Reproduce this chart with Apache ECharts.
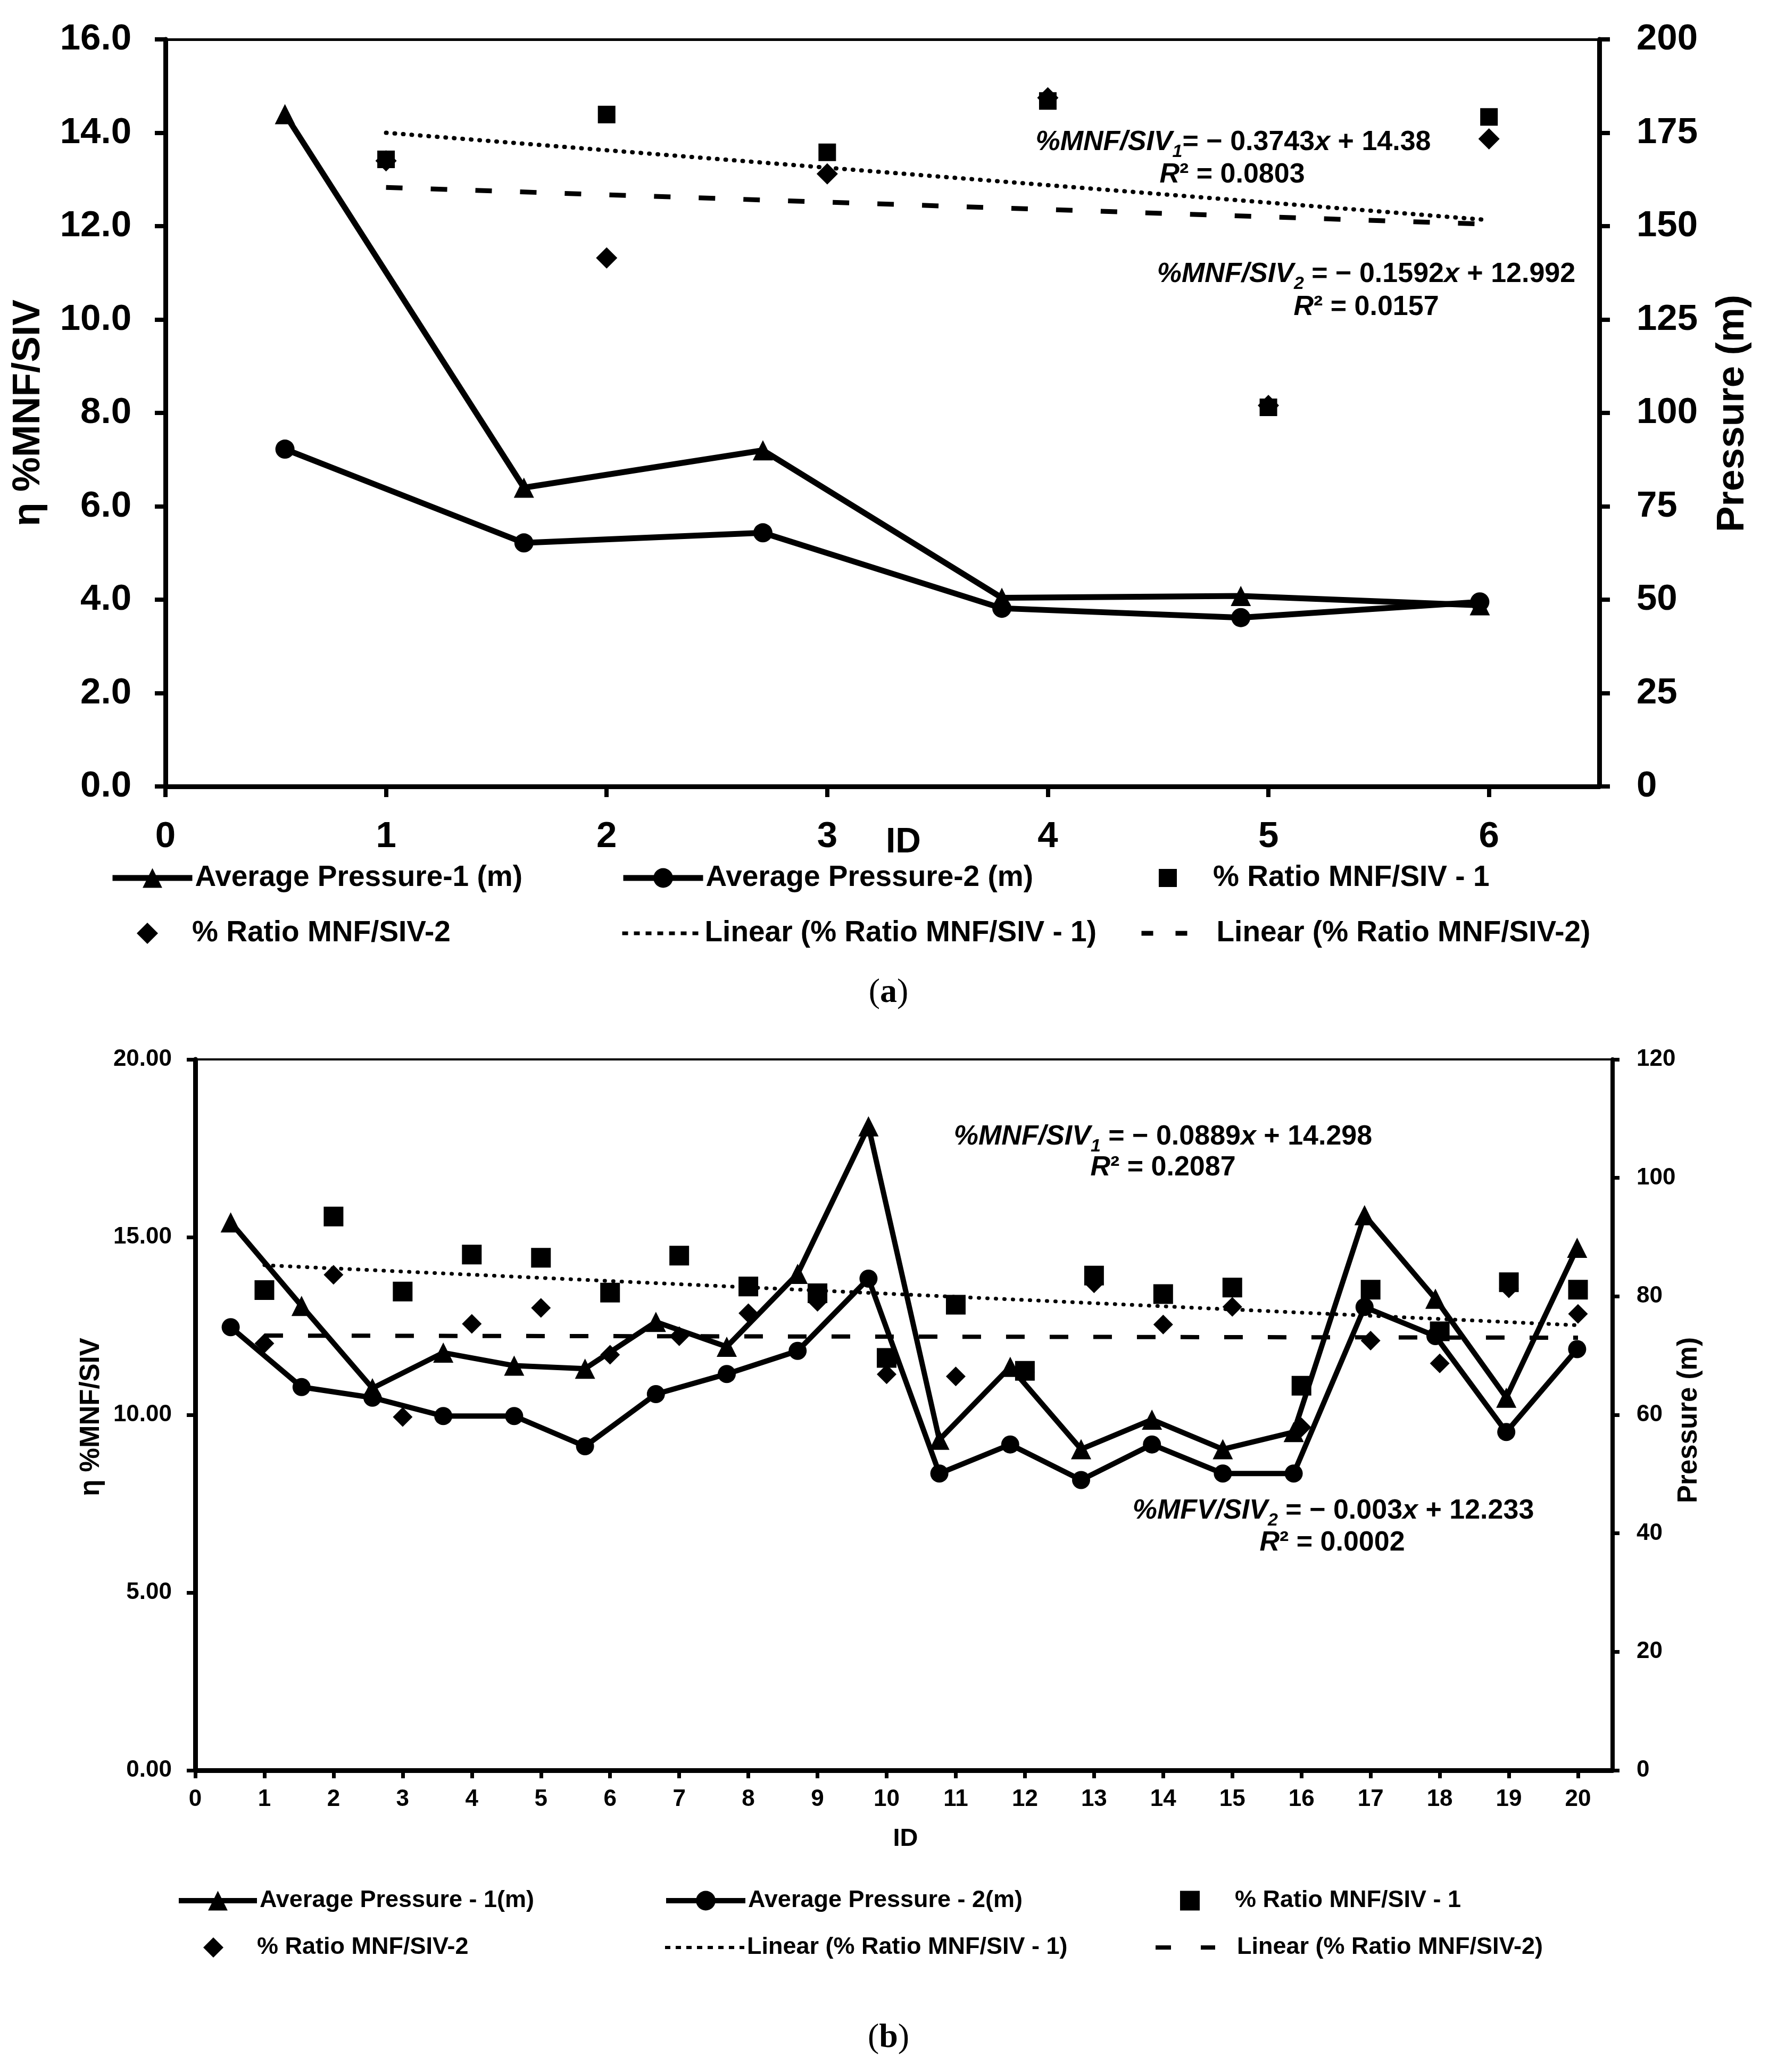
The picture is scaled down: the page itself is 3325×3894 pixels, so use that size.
<!DOCTYPE html>
<html><head><meta charset="utf-8">
<script src="https://cdn.jsdelivr.net/npm/echarts@6/dist/echarts.min.js"></script>
<style>html,body{margin:0;padding:0;background:#fff}#c{width:3325px;height:3894px}</style>
</head><body><div id="c"></div>
<script>
// ---------- Panel (a) data ----------
const idsA = [1, 2, 3, 4, 5, 6];
const xTicksA = [0, 1, 2, 3, 4, 5, 6];
const pressure1A = [180, 80, 90, 50.5, 51, 48.5];
const pressure2A = [90.3, 65.2, 67.9, 47.7, 45.2, 49.4];
const ratio1A = [13.43, 14.39, 13.58, 14.68, 8.12, 14.34];
const ratio2A = [13.40, 11.32, 13.12, 14.75, 8.16, 13.87];
const trend1A = [[1, 14.0], [6, 12.13]];
const trend2A = [[1, 12.83], [6, 12.04]];

// ---------- Panel (b) data ----------
const idsB = [1, 2, 3, 4, 5, 6, 7, 8, 9, 10, 11, 12, 13, 14, 15, 16, 17, 18, 19, 20];
const xTicksB = [0, 1, 2, 3, 4, 5, 6, 7, 8, 9, 10, 11, 12, 13, 14, 15, 16, 17, 18, 19, 20];
const pressure1B = [92.5, 78.4, 64.5, 70.5, 68.3, 67.8, 75.7, 71.5, 83.8, 108.7, 55.8, 68.1, 54.2, 59.2, 54.2, 57.1, 93.7, 79.6, 62.9, 88.2];
const pressure2B = [74.8, 64.7, 62.9, 59.8, 59.8, 54.7, 63.5, 66.9, 70.8, 83.0, 50.1, 55.0, 49.0, 55.0, 50.1, 50.1, 78.2, 73.3, 57.1, 71.1];
const ratio1B = [13.51, 15.58, 13.47, 14.51, 14.42, 13.44, 14.48, 13.61, 13.42, 11.60, 13.10, 11.24, 13.92, 13.40, 13.58, 10.82, 13.52, 12.35, 13.73, 13.52];
const ratio2B = [12.01, 13.94, 9.94, 12.56, 13.01, 11.69, 12.21, 12.86, 13.18, 11.14, 11.08, 11.20, 13.70, 12.54, 13.04, 9.65, 12.09, 11.45, 13.56, 12.84];
const trend1B = [[1, 14.21], [20, 12.52]];
const trend2B = [[1, 12.23], [20, 12.17]];

const F = 'Liberation Sans, Arial, sans-serif';
const SERIF = 'Liberation Serif, Times New Roman, serif';
const K = '#000';

const chart = echarts.init(document.getElementById('c'), null, {renderer: 'canvas', width: 3325, height: 3894});

function labelStyle(fs, margin, fmt, custom) {
  const o = {show: true, color: K, fontFamily: F, fontWeight: 'bold', fontSize: fs, margin: margin};
  if (fmt) o.formatter = fmt;
  if (custom) o.customValues = custom;
  return o;
}
function valueX(grid, max, ticks, fs, margin, aw, tl, tw) {
  return {
    type: 'value', gridIndex: grid, position: 'bottom', min: 0, max: max, interval: 1,
    axisLine: {show: true, onZero: false, lineStyle: {color: K, width: aw}},
    axisTick: {show: true, length: tl, lineStyle: {color: K, width: tw}, customValues: ticks},
    axisLabel: labelStyle(fs, margin, v => (Number.isInteger(v) ? String(v) : ''), ticks),
    splitLine: {show: false}
  };
}
function catX(grid, cats, bw) {
  return {
    type: 'category', gridIndex: grid, position: 'top', data: cats.map(String), boundaryGap: true,
    axisLine: {show: true, onZero: false, lineStyle: {color: K, width: bw}},
    axisTick: {show: false}, axisLabel: {show: false}, splitLine: {show: false}
  };
}
function valueY(grid, pos, max, interval, fs, margin, fmt, aw, tl, tw) {
  return {
    type: 'value', gridIndex: grid, position: pos, min: 0, max: max, interval: interval,
    axisLine: {show: true, onZero: false, lineStyle: {color: K, width: aw}},
    axisTick: {show: true, length: tl, lineStyle: {color: K, width: tw}},
    axisLabel: labelStyle(fs, margin, fmt),
    splitLine: {show: false}
  };
}

function lineSeries(name, xi, yi, data, symbol, size, width) {
  return {
    name: name, type: 'line', xAxisIndex: xi, yAxisIndex: yi, data: data,
    symbol: symbol, symbolSize: size, showSymbol: true, showAllSymbol: true,
    lineStyle: {color: K, width: width, join: 'miter', miterLimit: 6},
    itemStyle: {color: K, opacity: 1}, z: 5, emphasis: {disabled: true}, silent: true
  };
}
function scatterSeries(name, xi, yi, ids, vals, symbol, size, z) {
  return {
    name: name, type: 'scatter', xAxisIndex: xi, yAxisIndex: yi,
    data: vals.map((v, i) => [ids[i], v]),
    symbol: symbol, symbolSize: size, itemStyle: {color: K, opacity: 1}, z: z,
    emphasis: {disabled: true}, silent: true
  };
}
function trendSeries(name, xi, yi, data, width, dash, cap) {
  return {
    name: name, type: 'line', xAxisIndex: xi, yAxisIndex: yi, data: data,
    symbol: 'none', lineStyle: {color: K, width: width, type: dash, cap: cap}, z: 3,
    emphasis: {disabled: true}, silent: true
  };
}

function legendItem(name, left, top, w, h, fs, lh, padLeft, lineStyle, hideSymbol) {
  const o = {
    data: [name], left: left, top: top, orient: 'horizontal', padding: 0,
    itemWidth: w, itemHeight: h, selectedMode: false,
    textStyle: {color: K, fontFamily: F, fontWeight: 'bold', fontSize: fs, lineHeight: lh, padding: [0, 0, 0, padLeft]}
  };
  if (lineStyle) o.lineStyle = lineStyle;
  o.itemStyle = hideSymbol ? {opacity: 0} : {opacity: 1};
  return o;
}

function richSet(fs, sub) {
  return {
    i: {fontFamily: F, fontWeight: 'bold', fontStyle: 'italic', fontSize: fs, lineHeight: Math.round(fs * 1.35), fill: K},
    n: {fontFamily: F, fontWeight: 'bold', fontStyle: 'normal', fontSize: fs, lineHeight: Math.round(fs * 1.35), fill: K},
    s: {fontFamily: F, fontWeight: 'bold', fontStyle: 'italic', fontSize: sub, verticalAlign: 'bottom', fill: K}
  };
}
function richText(x, y, text, fs, sub) {
  return {
    type: 'text', x: x, y: y, z: 100, silent: true,
    style: {text: text, rich: richSet(fs, sub), align: 'center', verticalAlign: 'middle',
      textAlign: 'center', textVerticalAlign: 'middle',
      fontFamily: F, fontWeight: 'bold', fontSize: fs, fill: K}
  };
}
function plainText(x, y, text, fs, rot) {
  return {
    type: 'text', x: x, y: y, rotation: rot || 0, z: 100, silent: true,
    style: {text: text, fontFamily: F, fontWeight: 'bold', fontSize: fs, fill: K,
      align: 'center', verticalAlign: 'middle', textAlign: 'center', textVerticalAlign: 'middle'}
  };
}
function caption(x, y, letter) {
  return {
    type: 'text', x: x, y: y, z: 100, silent: true,
    style: {
      text: '{p|(}{b|' + letter + '}{p|)}', align: 'center', verticalAlign: 'middle',
      textAlign: 'center', textVerticalAlign: 'middle', fontFamily: SERIF, fontSize: 64, fill: K,
      rich: {
        p: {fontFamily: SERIF, fontWeight: 'normal', fontSize: 64, fill: K},
        b: {fontFamily: SERIF, fontWeight: 'bold', fontSize: 64, fill: K}
      }
    }
  };
}

const option = {
  backgroundColor: '#fff',
  animation: false,
  grid: [
    {left: 311, top: 74, width: 2695, height: 1404, containLabel: false, outerBoundsMode: 'none'},
    {left: 367, top: 1991, width: 2664, height: 1336, containLabel: false, outerBoundsMode: 'none'}
  ],
  xAxis: [
    valueX(0, 6.5, xTicksA, 69, 60, 9, 20, 8),
    catX(0, idsA, 5),
    valueX(1, 20.5, xTicksB, 44, 33, 9, 15, 7),
    catX(1, idsB, 4)
  ],
  yAxis: [
    valueY(0, 'left', 16, 2, 69, 64, v => v.toFixed(1), 9, 20, 8),
    valueY(0, 'right', 200, 25, 69, 70, v => String(v), 9, 20, 8),
    valueY(1, 'left', 20, 5, 44, 44, v => v.toFixed(2), 9, 16, 7),
    valueY(1, 'right', 120, 20, 44, 45, v => String(v), 8, 13, 7)
  ],
  series: [
    // panel (a)
    lineSeries('Average Pressure-1 (m)', 1, 1, pressure1A, 'triangle', 38, 11),
    lineSeries('Average Pressure-2 (m)', 1, 1, pressure2A, 'circle', 36, 11),
    scatterSeries('% Ratio MNF/SIV - 1', 0, 0, idsA, ratio1A, 'rect', 33, 3),
    scatterSeries('% Ratio MNF/SIV-2', 0, 0, idsA, ratio2A, 'diamond', 40, 4),
    trendSeries('Linear (% Ratio MNF/SIV - 1)', 0, 0, trend1A, 8, [1, 15], 'round'),
    trendSeries('Linear (% Ratio MNF/SIV-2)', 0, 0, trend2A, 9, [31, 53], 'butt'),
    // panel (b)
    lineSeries('Average Pressure - 1(m)', 3, 3, pressure1B, 'triangle', 38, 10),
    lineSeries('Average Pressure - 2(m)', 3, 3, pressure2B, 'circle', 34, 10),
    scatterSeries('% Ratio MNF/SIV - 1', 2, 2, idsB, ratio1B, 'rect', 37, 3),
    scatterSeries('% Ratio MNF/SIV-2', 2, 2, idsB, ratio2B, 'diamond', 37, 4),
    trendSeries('Linear (% Ratio MNF/SIV - 1)', 2, 2, trend1B, 7, [1, 15], 'round'),
    trendSeries('Linear (% Ratio MNF/SIV-2)', 2, 2, trend2B, 8, [35, 47], 'butt')
  ],
  legend: [
    // panel (a)
    legendItem('Average Pressure-1 (m)', 206, 1615, 150, 46, 55, 70, 0, {width: 11}),
    legendItem('Average Pressure-2 (m)', 1166, 1615, 150, 46, 55, 70, 0, {width: 11}),
    legendItem('% Ratio MNF/SIV - 1', 2178, 1615, 34, 34, 55, 70, 63),
    legendItem('% Ratio MNF/SIV-2', 257, 1719, 40, 40, 55, 70, 59),
    legendItem('Linear (% Ratio MNF/SIV - 1)', 1166, 1719, 150, 20, 55, 70, 0, {width: 7, type: [11, 11], cap: 'butt'}, true),
    legendItem('Linear (% Ratio MNF/SIV-2)', 2141, 1719, 86, 20, 55, 70, 50, {width: 9, type: [22, 42], cap: 'butt'}, true),
    // panel (b)
    legendItem('Average Pressure - 1(m)', 331, 3543, 147, 46, 45, 58, 0, {width: 10}),
    legendItem('Average Pressure - 2(m)', 1247, 3543, 149, 46, 45, 58, 0, {width: 10}),
    legendItem('% Ratio MNF/SIV - 1', 2218, 3543, 37, 37, 45, 58, 61),
    legendItem('% Ratio MNF/SIV-2', 382, 3631, 38, 38, 45, 58, 58),
    legendItem('Linear (% Ratio MNF/SIV - 1)', 1247, 3631, 149, 20, 45, 58, 0, {width: 6, type: [10, 10], cap: 'butt'}, true),
    legendItem('Linear (% Ratio MNF/SIV-2)', 2168, 3631, 112, 20, 45, 58, 36, {width: 8, type: [29, 56], cap: 'butt'}, true)
  ],
  graphic: [
    // axis titles (a)
    plainText(54, 776, 'η %MNF/SIV', 73, Math.PI / 2),
    plainText(3257, 777, 'Pressure (m)', 73, Math.PI / 2),
    plainText(1698, 1584, 'ID', 66),
    // equations (a)
    richText(2318, 268, '{i|%MNF/SIV}{s|1}{n|= − 0.3743}{i|x}{n| + 14.38}', 52, 34),
    richText(2316, 329, '{i|R}{n|² = 0.0803}', 52, 34),
    richText(2568, 516, '{i|%MNF/SIV}{s|2}{n| = − 0.1592}{i|x}{n| + 12.992}', 52, 34),
    richText(2568, 578, '{i|R}{n|² = 0.0157}', 52, 34),
    caption(1670, 1866, 'a'),
    // axis titles (b)
    plainText(172, 2663, 'η %MNF/SIV', 51, Math.PI / 2),
    plainText(3175, 2669, 'Pressure (m)', 51, Math.PI / 2),
    plainText(1702, 3456, 'ID', 47),
    // equations (b)
    richText(2186, 2137, '{i|%MNF/SIV}{s|1}{n| = − 0.0889}{i|x}{n| + 14.298}', 52, 34),
    richText(2186, 2195, '{i|R}{n|² = 0.2087}', 52, 34),
    richText(2506, 2840, '{i|%MFV/SIV}{s|2}{n| = − 0.003}{i|x}{n| + 12.233}', 52, 34),
    richText(2504, 2900, '{i|R}{n|² = 0.0002}', 52, 34),
    caption(1670, 3830, 'b')
  ]
};
chart.setOption(option);
</script>
</body></html>
